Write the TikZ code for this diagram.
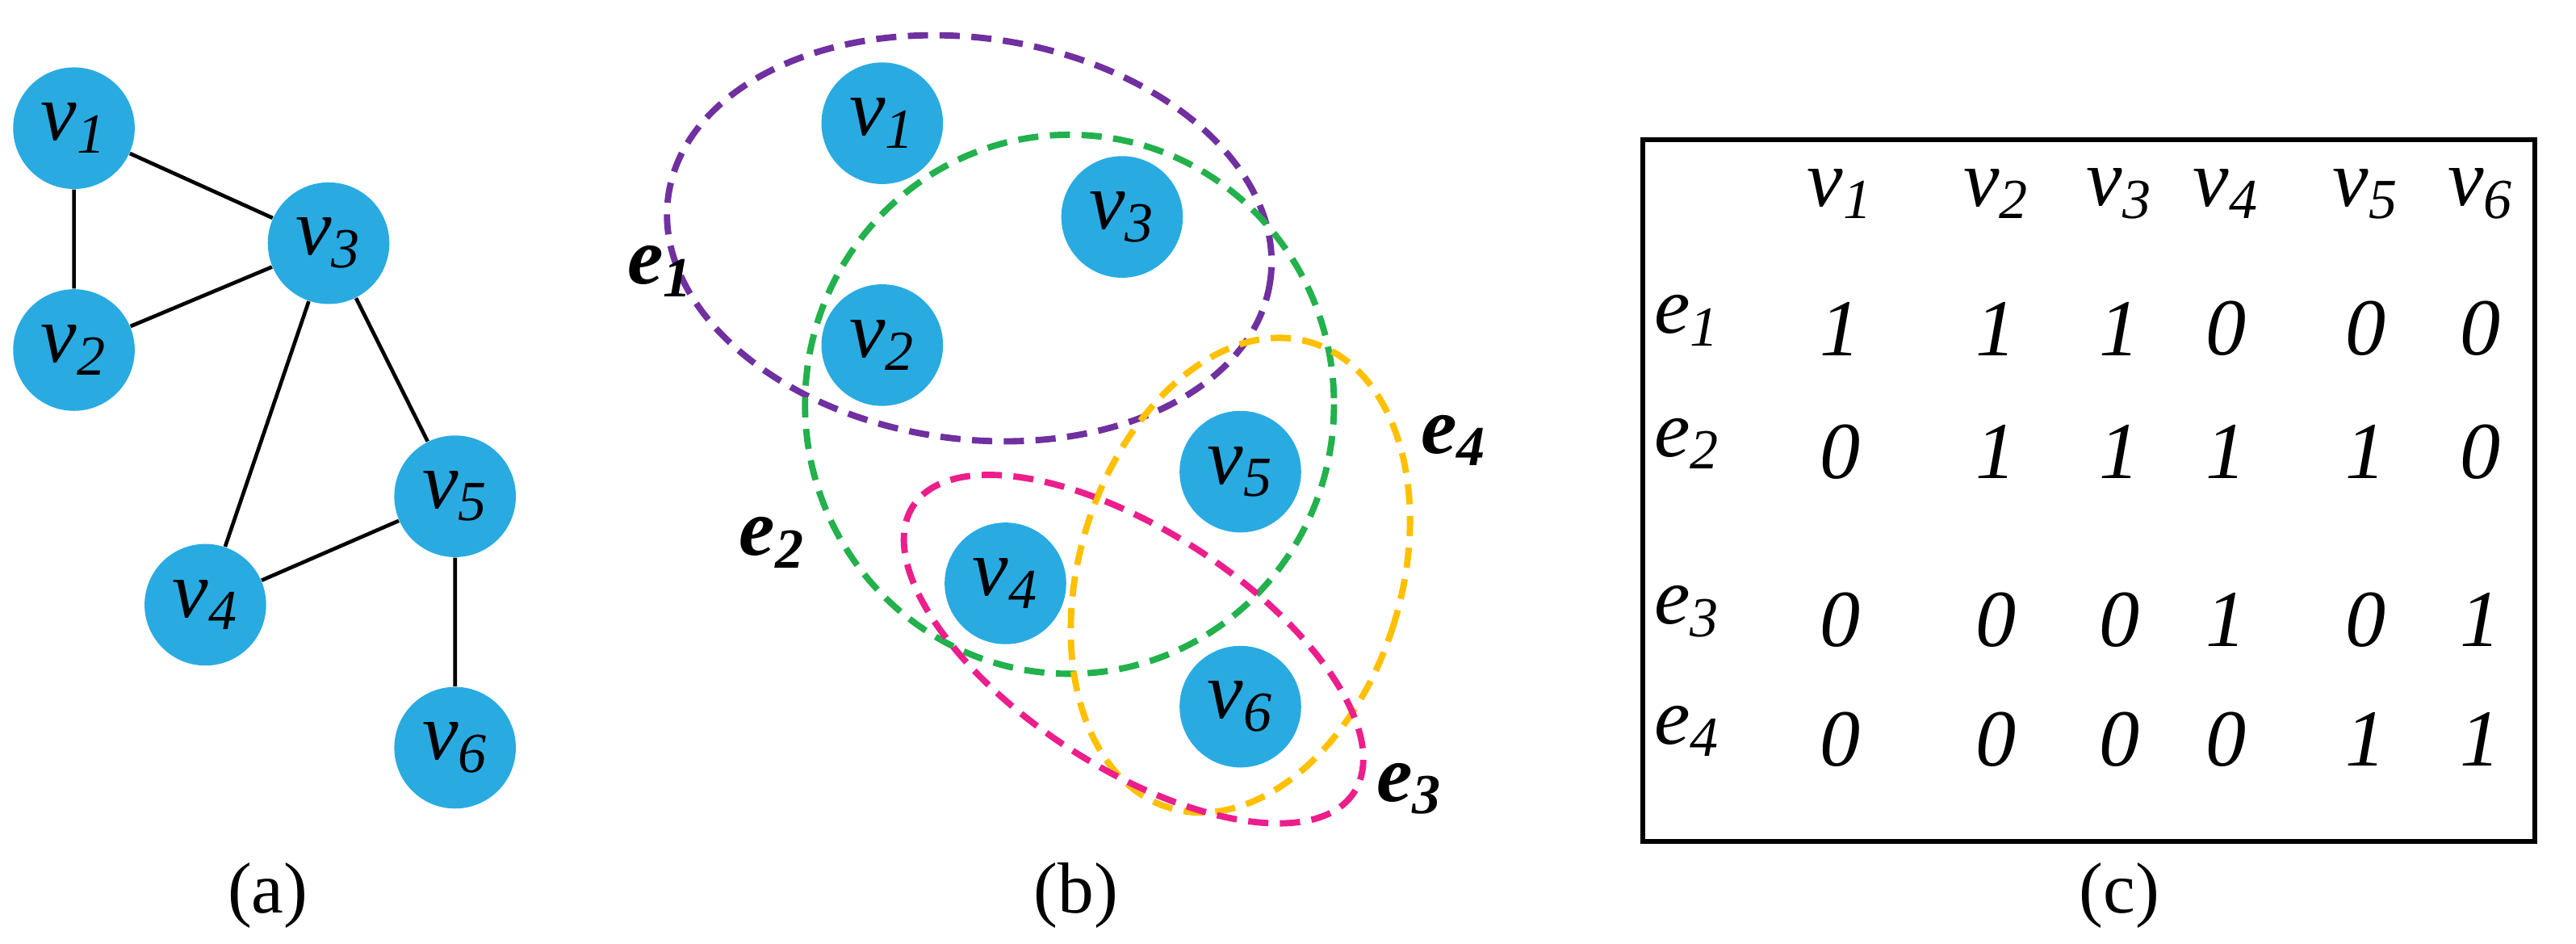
\documentclass[tikz,border=0pt]{standalone}
\usepackage{fontspec}
\setmainfont{Liberation Serif}
\begin{document}
\begin{tikzpicture}[x=0.2mm,y=-0.2mm,
 vn/.style={circle,fill=vcol,minimum size=74*0.2mm,inner sep=0pt,font=\fontsize{28}{30}\selectfont\itshape},
 ed/.style={line width=1.3pt},
 hy/.style={line width=2.2pt,dash pattern=on 7pt off 4pt},
 el/.style={font=\fontsize{28}{30}\selectfont\bfseries\itshape},
 tx/.style={font=\fontsize{28}{30}\selectfont\itshape},
 captxt/.style={font=\fontsize{25}{28}\selectfont}]
\definecolor{vcol}{RGB}{41,171,226}
\definecolor{pur}{RGB}{112,48,160}
\definecolor{grn}{RGB}{34,177,76}
\definecolor{yel}{RGB}{255,192,0}
\definecolor{pnk}{RGB}{236,30,140}
\useasboundingbox (0,0) rectangle (1568,574);
% (a)
\node[vn] (a1) at (45,78) {v\textsubscript{1}};
\node[vn] (a3) at (200,148) {v\textsubscript{3}};
\node[vn] (a2) at (45,213) {v\textsubscript{2}};
\node[vn] (a5) at (277,302) {v\textsubscript{5}};
\node[vn] (a4) at (125,368) {v\textsubscript{4}};
\node[vn] (a6) at (277,455) {v\textsubscript{6}};
\draw[ed] (a1)--(a3) (a1)--(a2) (a2)--(a3) (a3)--(a4) (a3)--(a5) (a4)--(a5) (a5)--(a6);
\node[captxt] (ca) at (163,545) {(a)};
% (b)
\node[vn] (b1) at (537,75) {v\textsubscript{1}};
\node[vn] (b3) at (683,132) {v\textsubscript{3}};
\node[vn] (b2) at (537,210) {v\textsubscript{2}};
\node[vn] (b5) at (755,287) {v\textsubscript{5}};
\node[vn] (b4) at (612,355) {v\textsubscript{4}};
\node[vn] (b6) at (755,430) {v\textsubscript{6}};
\draw[hy,pur,rotate around={-8:(590,145)}] (590,145) ellipse [x radius=185, y radius=122];
\draw[hy,grn] (651,246) ellipse [x radius=161, y radius=164];
\draw[hy,yel,rotate around={-17:(755,350)}] (755,350) ellipse [x radius=98, y radius=148];
\draw[hy,pnk,rotate around={-33:(690,395)}] (690,395) ellipse [x radius=160, y radius=72];
\node[el] (e1) at (402,165) {e\textsubscript{1}};
\node[el] (e2) at (470,330) {e\textsubscript{2}};
\node[el] (e3) at (858,480) {e\textsubscript{3}};
\node[el] (e4) at (885,268) {e\textsubscript{4}};
\node[captxt] (cb) at (655,545) {(b)};
% (c)
\draw[line width=1.5pt] (1000,85) rectangle (1543,512);
\foreach \x/\i in {1120/1,1215/2,1290/3,1355/4,1440/5,1510/6}
  \node[tx] (h\i) at (\x,118) {v\textsubscript{\i}};
\foreach \y/\r/\vals in {195/1/{1,1,1,0,0,0},270/2/{0,1,1,1,1,0},372/3/{0,0,0,1,0,1},445/4/{0,0,0,0,1,1}}{
  \node[tx] (r\r) at (1027,\y) {e\textsubscript{\r}};
  \foreach \v [count=\c] in \vals {
    \pgfmathsetmacro{\xx}{{1120,1215,1290,1355,1440,1510}[\c-1]}
    \node[tx] (m\r\c) at (\xx,\y+5) {\v};
  }
}
\node[captxt] (cc) at (1290,545) {(c)};
\end{tikzpicture}
\end{document}
